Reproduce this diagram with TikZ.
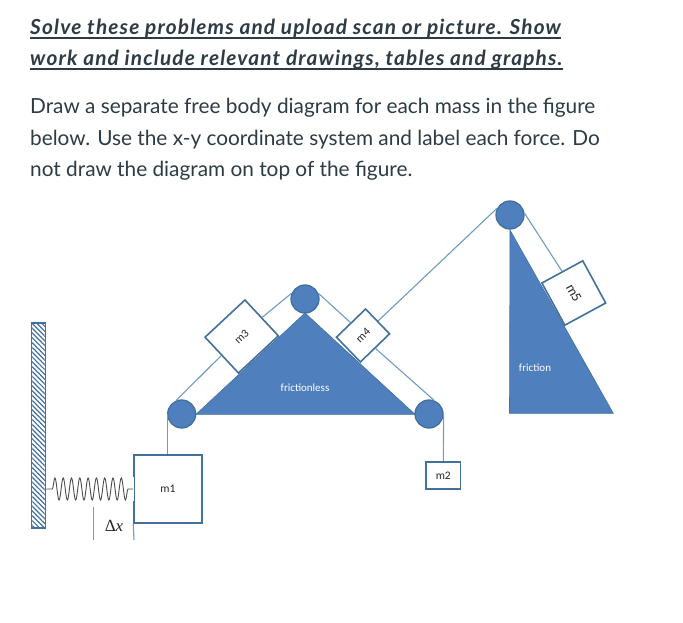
\documentclass[tikz,border=0pt]{standalone}
\usepackage{fontspec}
\setmainfont{Lato}
\newfontfamily\figfont{Carlito}
\newfontfamily\headfont[LetterSpace=5.6]{Lato}
\newfontfamily\deltafont{Liberation Serif}
\usetikzlibrary{patterns.meta,calc,decorations.pathmorphing}
\definecolor{edgeblue}{HTML}{41719C}
\definecolor{fillblue}{HTML}{4F7FBD}
\definecolor{ropeblue}{HTML}{6F9BC4}
\definecolor{textgray}{HTML}{2D3B45}

\begin{document}
\begin{tikzpicture}[x=1pt, y=-1pt,
    para/.style={anchor=base west,inner sep=0pt,text=textgray,font=\fontsize{20.8}{25}\selectfont},
    head/.style={para,font=\headfont\fontsize{20.8}{25}\selectfont\bfseries\itshape},
    pulley/.style={circle,draw=edgeblue,line width=1.3pt,fill=fillblue,minimum size=28pt,inner sep=0pt},
    mass/.style={rectangle,draw=edgeblue,line width=1.6pt,fill=white,inner sep=0pt,text=black!85,font=\figfont\fontsize{11.5}{13}\selectfont},
    ramp/.style={fill=fillblue,draw=edgeblue,line width=0.6pt},
    ramplabel/.style={inner sep=0pt,text=white,font=\figfont\fontsize{11}{13}\selectfont},
    rope/.style={draw=ropeblue,line width=1.1pt},
    spring/.style={draw=black!70,line width=0.9pt,decorate,decoration={snake,segment length=8.3pt,amplitude=11pt,pre length=6pt,post length=3pt}}]
    \useasboundingbox[fill=white] (0,0) rectangle (683,623);

    \node[head] (title1) at (30,35) {Solve these problems and upload scan or picture. Show};
    \node[head] (title2) at (30,66) {work and include relevant drawings, tables and graphs.};
    \node[para] (body1) at (30,114) {Draw a separate free body diagram for each mass in the figure};
    \node[para] (body2) at (30,146) {below.  Use the x-y coordinate system and label each force.  Do};
    \node[para] (body3) at (30,177) {not draw the diagram on top of the figure.};
    \draw[textgray,line width=1.3pt] ($(title1.base west)+(0,3)$) -- ($(title1.base east)+(0,3)$);
    \draw[textgray,line width=1.3pt] ($(title2.base west)+(0,3)$) -- ($(title2.base east)+(0,3)$);

    \filldraw[ramp] (305,313) -- (196,414.3) -- (415,414.3) -- cycle;
    \filldraw[ramp] (510,230) -- (509.5,413.3) -- (613.3,413.3) -- cycle;
    \node[ramplabel] (flabel) at (305,388) {frictionless};
    \node[ramplabel] (rlabel) at (535,368) {friction};

    \node[pulley] (P1) at (181.7,414) {};
    \node[pulley] (P2) at (429,414) {};
    \node[pulley] (P3) at (305,299) {};
    \node[pulley] (P5) at (510,215) {};

    \node[mass,minimum width=68pt,minimum height=67.5pt] (m1) at (168,489) {m1};
    \node[mass,minimum width=34.5pt,minimum height=27.5pt] (m2) at (443.3,475.5) {m2};
    \node[mass,rotate=43,minimum width=54.5pt,minimum height=49pt] (m3) at (241.7,336.5) {m3};
    \node[mass,rotate=44,minimum width=40.5pt,minimum height=34.5pt] (m4) at (363,335.5) {m4};
    \node[mass,rotate=-61.5,minimum width=48pt,minimum height=46.5pt,font=\figfont\fontsize{14}{16}\selectfont] (m5) at (573.8,293) {m5};

    \node[draw=edgeblue,line width=1.4pt,pattern={Lines[angle=-45,distance=3.4pt,line width=1.2pt]},pattern color=edgeblue,minimum width=14pt,minimum height=205pt,inner sep=0pt] (wall) at (38.7,425.5) {};
    \coordinate (dxa) at (93.3,507);
    \coordinate (dxb) at (93.3,540);
    \coordinate (dxc) at (134,540);
    \node[inner sep=0pt,font=\deltafont\fontsize{17}{19}\selectfont,text=black!85] (dx) at (114,526) {Δ\textit{x}};

    \path[rope]
    (P1.112) edge (m3.west)
    (m3.east) edge (P3.157)
    (P3.22) edge (m4.north)
    (m4.south) edge (P2.70)
    (m4.east) edge (P5.153)
    (P5.7) edge (m5.west)
    (P1.west) edge (P1.west |- m1.north)
    (P2.east) edge (m2.north)
    (dxa) edge (dxb)
    (m1.south west) edge (dxc);

    \draw[white,line width=2pt] ($(m1.west)+(0,-12)$) -- ($(m1.west)+(0,12)$);
    \draw[spring] (wall.east |- m1.west) -- (m1.west);
\end{tikzpicture}
\end{document}
